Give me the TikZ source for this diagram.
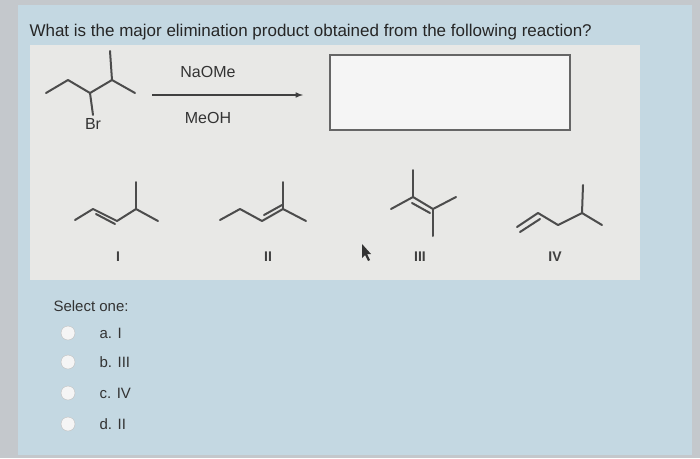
\documentclass[tikz,border=0pt]{standalone}
\usepackage{fontspec}
\setmainfont{Liberation Sans}
\definecolor{outerbg}{RGB}{196,200,204}
\definecolor{panel}{RGB}{196,216,226}
\definecolor{card}{RGB}{232,232,230}
\begin{document}
\begin{tikzpicture}[x=1pt,y=-1pt,
  bond/.style={draw=black!70,line width=2pt,line cap=round,line join=round},
  lbl/.style={font=\fontsize{16}{18}\selectfont,text=black!80},
  rlbl/.style={font=\bfseries\fontsize{14}{16}\selectfont,text=black!75},
  radio/.style={circle,draw=gray!50,fill=white!92!gray,minimum size=14pt,inner sep=0pt},
  opt/.style={font=\fontsize{15}{17}\selectfont,text=black!80,anchor=west}]
\useasboundingbox (0,0) rectangle (700,458);
\fill[outerbg] (0,0) rectangle (700,458);
\fill[panel] (18,5) rectangle (692,455);
\fill[card] (30,45) rectangle (640,280);
\node[anchor=west,font=\fontsize{17}{19}\selectfont,text=black!85] (title) at (26,32) {What is the major elimination product obtained from the following reaction?};
% starting material
\draw[bond] (46,93) -- (68,80) -- (90,93) -- (112,80) -- (135,93);
\draw[bond] (112,80) -- (110,51);
\node[lbl] (br) at (93,124) {Br};
\draw[bond] (90,93) -- (br.north);
% arrow
\coordinate (a1) at (152,95); \coordinate (a2) at (303,95);
\draw[line width=1.5pt,black!75,-latex] (a1) -- (a2);
\node[lbl] (r1) at (208,72) {NaOMe};
\node[lbl] (r2) at (208,118) {MeOH};
\node[draw=black!60,line width=1.4pt,fill=white!92!gray,minimum width=240pt,minimum height=75pt,inner sep=0pt] (box) at (450,92.5) {};
% I
\draw[bond] (75,220) -- (93,209) -- (117,221) -- (136,209) -- (158,221);
\draw[bond] (136,209) -- (136,182);
\draw[bond] (96,214) -- (115,224);
\node[rlbl] (l1) at (118,257) {I};
% II
\draw[bond] (220,220) -- (240,209) -- (262,221) -- (283,209) -- (306,221);
\draw[bond] (283,209) -- (283,182);
\draw[bond] (264,215) -- (282,205);
\node[rlbl] (l2) at (268,257) {II};
% cursor
\fill[black!80] (362,244) -- (362,258) -- (365,255) -- (368,261) -- (370,260) -- (367,254) -- (371,254) -- cycle;
% III
\draw[bond] (391,209) -- (413,197) -- (433,209) -- (456,197);
\draw[bond] (413,197) -- (413,170);
\draw[bond] (433,209) -- (433,236);
\draw[bond] (412,203) -- (430,213);
\node[rlbl] (l3) at (420,257) {III};
% IV
\draw[bond] (517,227) -- (538,213) -- (558,225) -- (582,213) -- (602,225);
\draw[bond] (582,213) -- (583,185);
\draw[bond] (520,232) -- (540,219);
\node[rlbl] (l4) at (555,257) {IV};
% options
\node[opt] (sel) at (50,306) {Select one:};
\foreach \y/\t [count=\i] in {333/a. I,362/b. III,393/c. IV,424/d. II}{
  \node[radio] (r\i) at (68,\y) {};
  \node[opt] (o\i) at (96,\y) {\t};
}
\end{tikzpicture}
\end{document}
